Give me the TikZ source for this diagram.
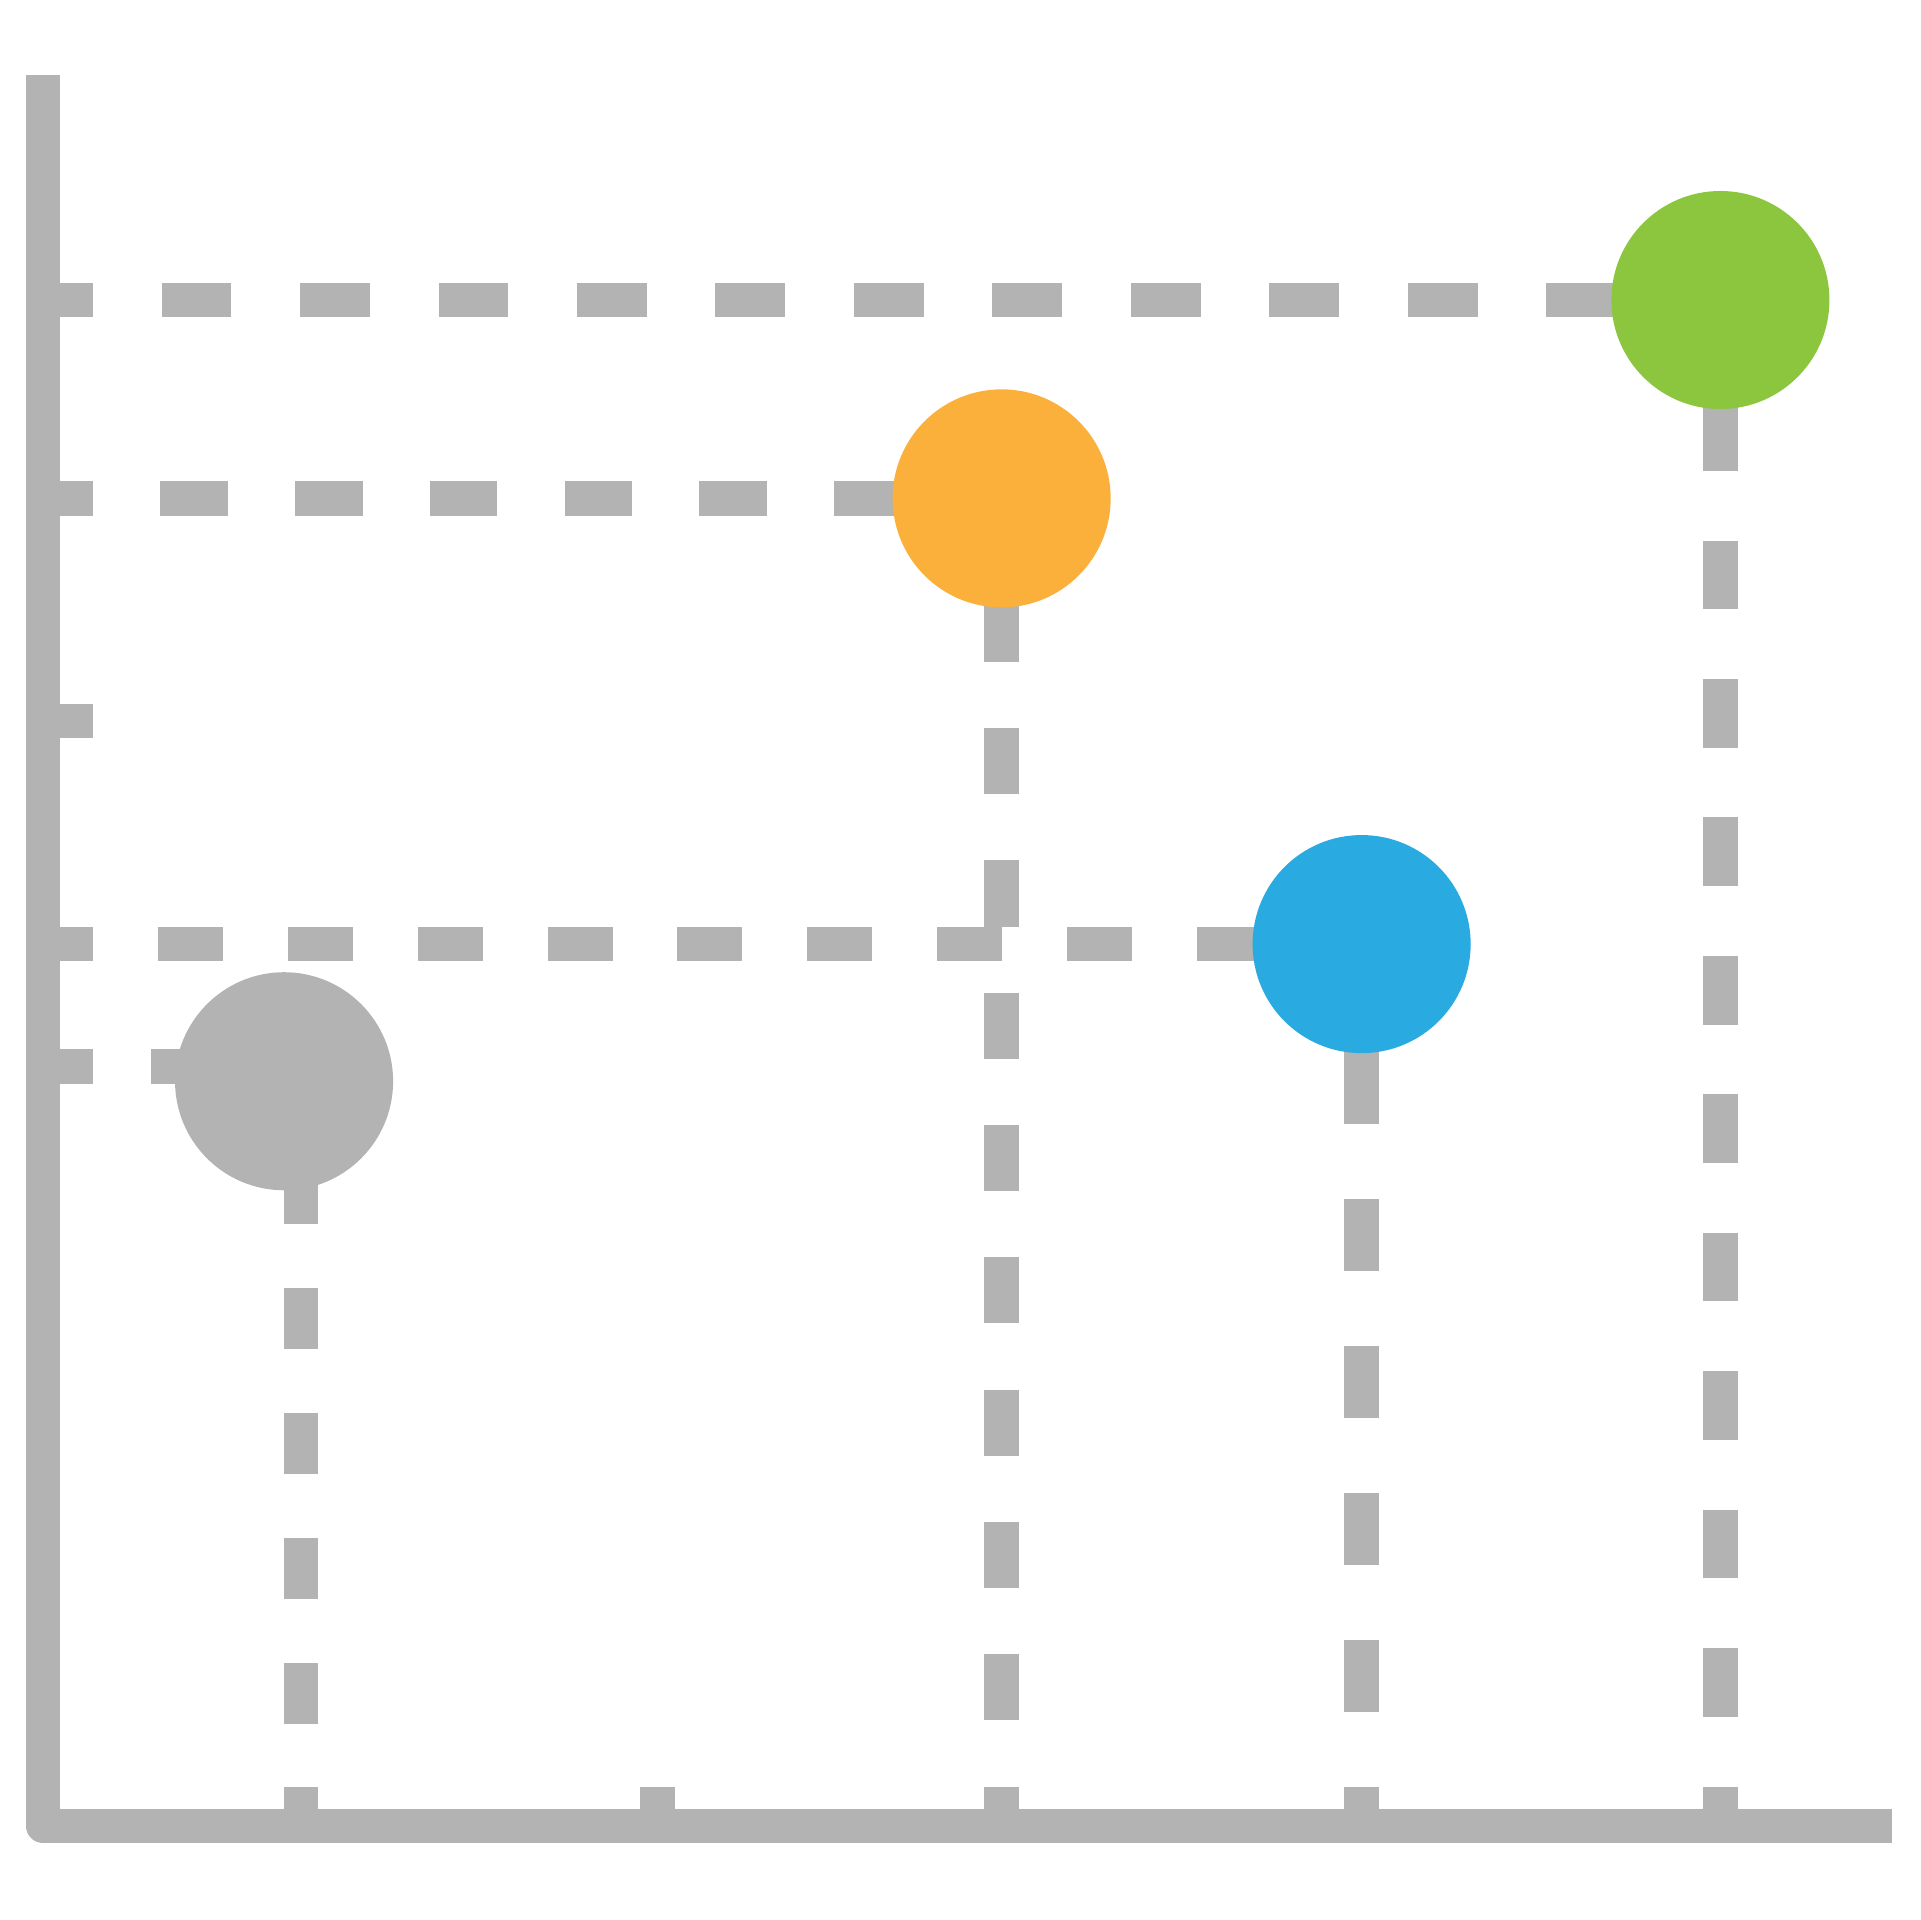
\documentclass[tikz,border=0pt]{standalone}
\usetikzlibrary{positioning}
\definecolor{axisgray}{HTML}{B3B3B3}
\definecolor{dotorange}{HTML}{FBB03B}
\definecolor{dotblue}{HTML}{29ABE2}
\definecolor{dotgreen}{HTML}{8CC63F}
\tikzset{
  axisline/.style={axisgray, line width=0.28cm},
  guide/.style={axisgray, line width=0.28cm},
  dot/.style={circle, inner sep=0pt, minimum size=1.78cm}
}
\begin{document}
\begin{tikzpicture}[x=0.01cm, y=-0.01cm]
    \useasboundingbox (0,0) rectangle (1568,1568);
    % point positions
    \coordinate (pgray) at (232,883);
    \coordinate (porange) at (818,407);
    \coordinate (pblue) at (1112,771);
    \coordinate (pgreen) at (1405,245);

    % axes
    \draw[axisline, line join=round] (35,61) -- (35,1491) -- (1545,1491);

    % ticks on the axes
    \foreach \y in {245,407,589,771,871}
        \draw[axisline] (49,\y) -- (76,\y);
    \foreach \x in {246,537,818,1112,1405}
        \draw[axisline] (\x,1459) -- (\x,1478);

    % horizontal guides
    \draw[guide, dash pattern=on 0.57cm off 0.56cm] (132,245) -- (pgreen);
    \draw[guide, dash pattern=on 0.55cm off 0.55cm] (131,407) -- (porange);
    \draw[guide, dash pattern=on 0.53cm off 0.53cm] (129,771) -- (pblue);
    \draw[guide] (123,871) -- (160,871);

    % vertical guides
    \draw[guide, dash pattern=on 0.50cm off 0.52cm] (246,1408) -- (246,950);
    \draw[guide, dash pattern=on 0.54cm off 0.54cm] (818,1405) -- (porange);
    \draw[guide, dash pattern=on 0.59cm off 0.61cm] (1112,1398) -- (pblue);
    \draw[guide, dash pattern=on 0.56cm off 0.57cm] (1405,1402) -- (pgreen);

    % dots
    \node[dot, fill=axisgray] (gray) at (pgray) {};
    \node[dot, fill=dotorange] (orange) at (porange) {};
    \node[dot, fill=dotblue] (blue) at (pblue) {};
    \node[dot, fill=dotgreen] (green) at (pgreen) {};
\end{tikzpicture}
\end{document}
